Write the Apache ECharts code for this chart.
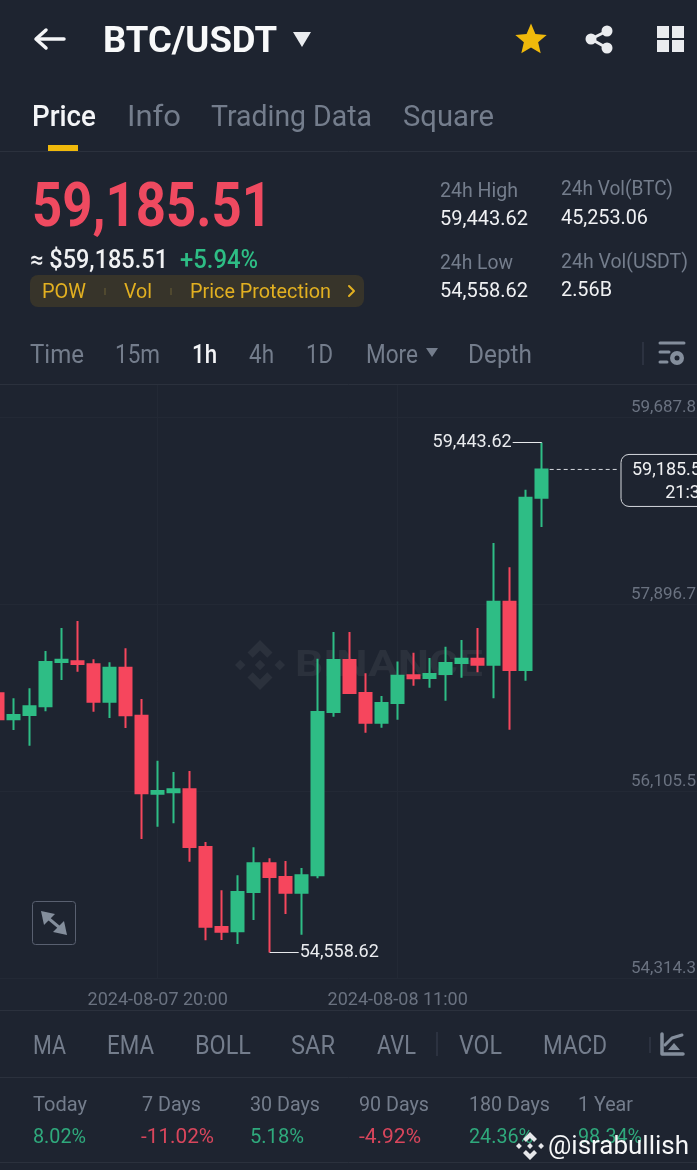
<!DOCTYPE html>
<html lang="en">
<head>
<meta charset="UTF-8">
<title>BTC/USDT</title>
<script src="https://cdn.jsdelivr.net/npm/echarts@6/dist/echarts.min.js"></script>
<style>
  html, body { margin: 0; padding: 0; background: #1e2430; }
  #chart { width: 697px; height: 1170px; }
</style>
</head>
<body>
<div id="chart"></div>
<script>
// hourly candles, values
var times = [
  '2024-08-07 10:00','2024-08-07 11:00','2024-08-07 12:00','2024-08-07 13:00','2024-08-07 14:00',
  '2024-08-07 15:00','2024-08-07 16:00','2024-08-07 17:00','2024-08-07 18:00','2024-08-07 19:00',
  '2024-08-07 20:00','2024-08-07 21:00','2024-08-07 22:00','2024-08-07 23:00','2024-08-08 00:00',
  '2024-08-08 01:00','2024-08-08 02:00','2024-08-08 03:00','2024-08-08 04:00','2024-08-08 05:00',
  '2024-08-08 06:00','2024-08-08 07:00','2024-08-08 08:00','2024-08-08 09:00','2024-08-08 10:00',
  '2024-08-08 11:00','2024-08-08 12:00','2024-08-08 13:00','2024-08-08 14:00','2024-08-08 15:00',
  '2024-08-08 16:00','2024-08-08 17:00','2024-08-08 18:00','2024-08-08 19:00','2024-08-08 20:00',
  '2024-08-08 21:00','2024-08-08 22:00','2024-08-08 23:00','2024-08-09 00:00','2024-08-09 01:00',
  '2024-08-09 02:00','2024-08-09 03:00','2024-08-09 04:00','2024-08-09 05:00','2024-08-09 06:00'
];
var opens = [57041,56792,56833,56917,57341,57348,57319,56961,57287,56826,56080,56093,56122,55569,54803,54762,55138,55413,55281,55131,55298,56862,57360,57044,56759,56948,57213,57187,57226,57331,57372,57315,57918,57264,58914];
var closes = [56792,56833,56917,57341,57363,57322,56961,57287,56830,56083,56105,56122,55569,54806,54758,55138,55413,55281,55131,55298,56862,57360,57044,56759,56948,57210,57185,57226,57331,57372,57315,57918,57264,58914,59185.51];
var lows = [56766,56689,56539,56869,57168,57248,56865,56805,56709,55646,55764,55796,55428,54675,54678,54640,54870,54558.62,54927,54729,55269,56817,57044,56664,56711,56788,57114,57095,56970,57190,57242,56993,56692,57162,58634];
var highs = [57073,56993,57089,57446,57667,57734,57367,57338,57472,56987,56396,56287,56297,55617,55154,55298,55566,55461,55435,55368,57372,57628,57628,57233,57015,57347,57430,57379,57487,57551,57667,58481,58248,58991,59443.62];

var yTicks = [54314.35, 56105.52, 57896.70, 59687.87];
var xLabelled = ['2024-08-07 20:00', '2024-08-08 11:00'];
var lastIndex = 34, lastPrice = 59185.51, countdown = '21:34';
var highIndex = 34, highPrice = 59443.62, lowIndex = 17, lowPrice = 54558.62;

var red = '#f6465d', green = '#2ebd85', gold = '#f0b90b';
var gray = '#747d8c', dim = '#6a7280', white = '#f0f1f3', rule = '#2b313d', faint = '#232935';
var font = 'Roboto';

function fmt(v) {
  return v.toFixed(2).replace(/\B(?=(\d{3})+(?!\d))/g, ',');
}

// page furniture round the chart
var ctx = document.createElement('canvas').getContext('2d');
var g = [];

// text squeezed to the width it has in the screenshot
function txt(s, x0, x1, y, size, fill, weight, z) {
  ctx.font = (weight || 400) + ' ' + size + 'px ' + font;
  g.push({
    type: 'text', x: x0, y: y + 4, scaleX: (x1 - x0) / ctx.measureText(s).width, z: z === undefined ? 5 : z, silent: true,
    style: { text: s, fontFamily: font, fontSize: size, fontWeight: weight || 400, fill: fill, verticalAlign: 'middle' }
  });
}
function hline(y) {
  g.push({ type: 'line', z: 1, shape: { x1: 0, y1: y, x2: 697, y2: y }, style: { stroke: rule, lineWidth: 1 } });
}
function vline(x, y1, y2) {
  g.push({ type: 'line', z: 5, shape: { x1: x, y1: y1, x2: x, y2: y2 }, style: { stroke: '#3a4150', lineWidth: 1 } });
}
function poly(points, fill, z) {
  g.push({ type: 'polygon', z: z === undefined ? 5 : z, shape: { points: points }, style: { fill: fill } });
}
function stroke(points, color, w) {
  g.push({ type: 'polyline', z: 5, shape: { points: points }, style: { stroke: color, lineWidth: w, fill: 'none', lineCap: 'round', lineJoin: 'round' } });
}
function box(x, y, w, h, r, fill, strokeColor) {
  g.push({ type: 'rect', z: 5, shape: { x: x, y: y, width: w, height: h, r: r }, style: { fill: fill || 'none', stroke: strokeColor || 'none', lineWidth: 1 } });
}
function dot(x, y, r, fill) {
  g.push({ type: 'circle', z: 5, shape: { cx: x, cy: y, r: r }, style: { fill: fill } });
}
function logo(cx, cy, r, fill, z) {
  var parts = [
    [[0, -1], [.5, -.5], [.29, -.29], [0, -.58], [-.29, -.29], [-.5, -.5]],
    [[0, 1], [.5, .5], [.29, .29], [0, .58], [-.29, .29], [-.5, .5]],
    [[-1, 0], [-.79, -.21], [-.58, 0], [-.79, .21]],
    [[1, 0], [.79, -.21], [.58, 0], [.79, .21]],
    [[0, -.21], [.21, 0], [0, .21], [-.21, 0]]
  ];
  parts.forEach(function (p) {
    poly(p.map(function (q) { return [cx + q[0] * r, cy + q[1] * r]; }), fill, z);
  });
}

// top bar
stroke([[37, 39], [64, 39]], '#f4f5f7', 3.5);
stroke([[46, 30], [36, 39], [46, 48]], '#f4f5f7', 3.5);
txt('BTC/USDT', 103, 277, 39, 37, '#f8f9fa', 700);
poly([[293, 32], [311, 32], [302, 47]], '#eaecef');
var star = [];
for (var i = 0; i < 10; i++) {
  var a = -Math.PI / 2 + i * Math.PI / 5, rr = i % 2 ? 7.5 : 16.5;
  star.push([531 + rr * Math.cos(a), 40 + rr * Math.sin(a)]);
}
poly(star, gold);
stroke([[607, 31], [591, 39], [607, 48]], '#eaecef', 3);
dot(591, 39, 5.5, '#eaecef'); dot(607, 31, 5.5, '#eaecef'); dot(607, 48, 5.5, '#eaecef');
box(657, 26, 12, 12, 0, '#eaecef'); box(672, 26, 12, 12, 0, '#eaecef');
box(657, 40, 12, 12, 0, '#eaecef'); box(672, 40, 12, 12, 0, '#eaecef');

// tabs
txt('Price', 32, 96, 114, 30, '#f4f5f7', 500);
txt('Info', 127, 181, 114, 30, gray);
txt('Trading Data', 211, 372, 114, 30, gray);
txt('Square', 403, 494, 114, 30, gray);
box(48, 145, 30, 6, 0, gold);
hline(151.5);

// price block
txt('59,185.51', 32, 272, 206, 62, '#ef4a60', 700);
txt('≈ $59,185.51', 30, 168, 258, 25, white, 500);
txt('+5.94%', 180, 258, 258, 25, green, 500);
box(30, 275, 334, 32, 8, '#37342a');
txt('POW', 42, 86, 289, 21, '#e2b021');
txt('Vol', 124, 152, 289, 21, '#e2b021');
txt('Price Protection', 190, 331, 289, 21, '#e2b021');
g.push({ type: 'line', z: 5, shape: { x1: 105, y1: 288, x2: 105, y2: 295 }, style: { stroke: '#6a5f35' } });
g.push({ type: 'line', z: 5, shape: { x1: 171, y1: 288, x2: 171, y2: 295 }, style: { stroke: '#6a5f35' } });
stroke([[349, 286], [354, 291], [349, 296]], '#e2b021', 2);

txt('24h High', 440, 518, 188, 21, gray);
txt('59,443.62', 440, 528, 216, 21, white);
txt('24h Vol(BTC)', 561, 673, 186, 21, gray);
txt('45,253.06', 561, 648, 215, 21, white);
txt('24h Low', 440, 513, 260, 21, gray);
txt('54,558.62', 440, 528, 288, 21, white);
txt('24h Vol(USDT)', 561, 688, 259, 21, gray);
txt('2.56B', 561, 612, 287, 21, white);

// interval row
txt('Time', 30, 84, 353, 25, gray);
txt('15m', 115, 160, 353, 25, gray);
txt('1h', 192, 217, 353, 25, '#f4f5f7', 500);
txt('4h', 249, 274, 353, 25, gray);
txt('1D', 306, 333, 353, 25, gray);
txt('More', 366, 418, 353, 25, gray);
poly([[426, 348], [438, 348], [432, 357]], gray);
txt('Depth', 468, 532, 353, 25, gray);
vline(643, 342, 365);
stroke([[660, 343], [684, 343]], '#848e9c', 3);
stroke([[660, 352], [669, 352]], '#848e9c', 3);
stroke([[660, 362], [667, 362]], '#848e9c', 3);
dot(677, 358, 7, '#848e9c'); dot(677, 358, 2.5, '#1e2430');
hline(384.5);

// watermark and expand button over the plot
logo(260, 665, 25, '#2b313c', 0);
txt('BINANCE', 295, 483, 663, 36, '#2b313c', 700, 0);
box(32.5, 901.5, 43, 43, 3, 'none', '#596070');
poly([[41, 911], [55, 914], [44, 925]], '#848e9c');
poly([[67, 935], [53, 932], [64, 921]], '#848e9c');
stroke([[48, 918], [60, 928]], '#848e9c', 3);

// indicators
hline(1010.5);
txt('MA', 33, 66, 1044, 25, gray);
txt('EMA', 107, 154, 1044, 25, gray);
txt('BOLL', 195, 251, 1044, 25, gray);
txt('SAR', 291, 335, 1044, 25, gray);
txt('AVL', 377, 416, 1044, 25, gray);
vline(437, 1032, 1056);
txt('VOL', 459, 502, 1044, 25, gray);
txt('MACD', 543, 607, 1044, 25, gray);
vline(650, 1037, 1053);
stroke([[662, 1034], [662, 1054], [683, 1054]], '#848e9c', 3.5);
stroke([[665, 1045], [672, 1038], [682, 1035]], '#848e9c', 3);
poly([[668, 1050], [674, 1043], [680, 1050]], '#848e9c');
hline(1077.5);

// performance row
var perfNames = ['Today', '7 Days', '30 Days', '90 Days', '180 Days', '1 Year'];
var perfValues = ['8.02%', '-11.02%', '5.18%', '-4.92%', '24.36%', '98.34%'];
var perfX = [[33, 87, 33, 86], [142, 201, 141, 214], [250, 320, 250, 304], [359, 429, 359, 421], [469, 550, 469, 533], [578, 633, 578, 642]];
perfNames.forEach(function (n, k) {
  txt(n, perfX[k][0], perfX[k][1], 1102, 21, gray);
  txt(perfValues[k], perfX[k][2], perfX[k][3], 1134, 21, perfValues[k][0] === '-' ? '#d9465c' : '#2fa97c');
});
hline(1162.5);

// author tag
logo(530, 1146, 14, '#e6e7ea', 6);
txt('@israbullish', 548, 689, 1143, 26, '#f6f7f8', 400, 6);

var ohlc = opens.map(function (o, k) { return [o, closes[k], lows[k], highs[k]]; });

var chart = echarts.init(document.getElementById('chart'));
chart.setOption({
  animation: false,
  backgroundColor: '#1e2430',
  graphic: { elements: g },
  // grid runs past the window edges, the first candle and the axis labels get cut off like in the app
  grid: { left: -10.3, top: 385, width: 720, height: 593, outerBoundsMode: 'none' },
  xAxis: {
    type: 'category',
    data: times,
    boundaryGap: true,
    axisLine: { show: false },
    axisTick: { show: false, alignWithLabel: true },
    axisLabel: {
      color: dim, fontFamily: font, fontSize: 18, margin: 13,
      interval: function (i, v) { return xLabelled.indexOf(v) >= 0; }
    },
    splitLine: {
      show: true,
      alignWithLabel: true,
      lineStyle: { color: faint, width: 1 },
      interval: function (i, v) { return xLabelled.indexOf(v) >= 0; }
    }
  },
  yAxis: {
    type: 'value',
    position: 'right',
    min: 54314.35,
    max: 59994.3,
    axisLine: { show: false },
    axisTick: { show: false, customValues: yTicks },
    axisLabel: {
      customValues: yTicks,
      inside: true, align: 'left', verticalAlign: 'bottom', margin: 78.7,
      color: dim, fontFamily: font, fontSize: 17, lineHeight: 18,
      formatter: function (v) { return fmt(v); }
    },
    splitLine: { show: true, lineStyle: { color: faint, width: 1 } }
  },
  series: [
    {
      type: 'candlestick',
      data: ohlc,
      barWidth: 12,
      z: 3,
      itemStyle: { color: green, color0: red, borderColor: green, borderColor0: red, borderWidth: 2 }
    },
    {
      // high and low call-outs
      type: 'custom',
      z: 4,
      clip: false,
      data: [[highIndex, highPrice, -1], [lowIndex, lowPrice, 1]],
      renderItem: function (params, api) {
        var p = api.coord([api.value(0), api.value(1)]);
        var side = api.value(2);
        return {
          type: 'group',
          children: [
            { type: 'line', shape: { x1: p[0], y1: p[1], x2: p[0] + side * 29, y2: p[1] }, style: { stroke: '#eaecef', lineWidth: 1 } },
            { type: 'text', x: p[0] + side * 30, y: p[1], style: {
              text: fmt(api.value(1)), fill: '#eaecef', fontFamily: font, fontSize: 18,
              align: side < 0 ? 'right' : 'left', verticalAlign: 'middle'
            } }
          ]
        };
      }
    },
    {
      // last price line and box running off the right edge
      type: 'custom',
      z: 4,
      clip: false,
      data: [[lastIndex, lastPrice]],
      renderItem: function (params, api) {
        var p = api.coord([api.value(0), api.value(1)]);
        return {
          type: 'group',
          children: [
            { type: 'line', shape: { x1: p[0] + 8, y1: p[1], x2: 618, y2: p[1] }, style: { stroke: '#d5d8dd', lineWidth: 1, lineDash: [4, 3] } },
            { type: 'rect', shape: { x: 621, y: p[1] - 15, width: 110, height: 52, r: 8 }, style: { fill: '#1e2430', stroke: '#d5d8dd', lineWidth: 1 } },
            { type: 'text', x: 632, y: p[1] + 1, style: { text: fmt(api.value(1)), fill: '#f0f1f3', fontFamily: font, fontSize: 18, verticalAlign: 'middle' } },
            { type: 'text', x: 710, y: p[1] + 24, style: { text: countdown, fill: '#f0f1f3', fontFamily: font, fontSize: 18, align: 'right', verticalAlign: 'middle' } }
          ]
        };
      }
    }
  ]
});
</script>
</body>
</html>
